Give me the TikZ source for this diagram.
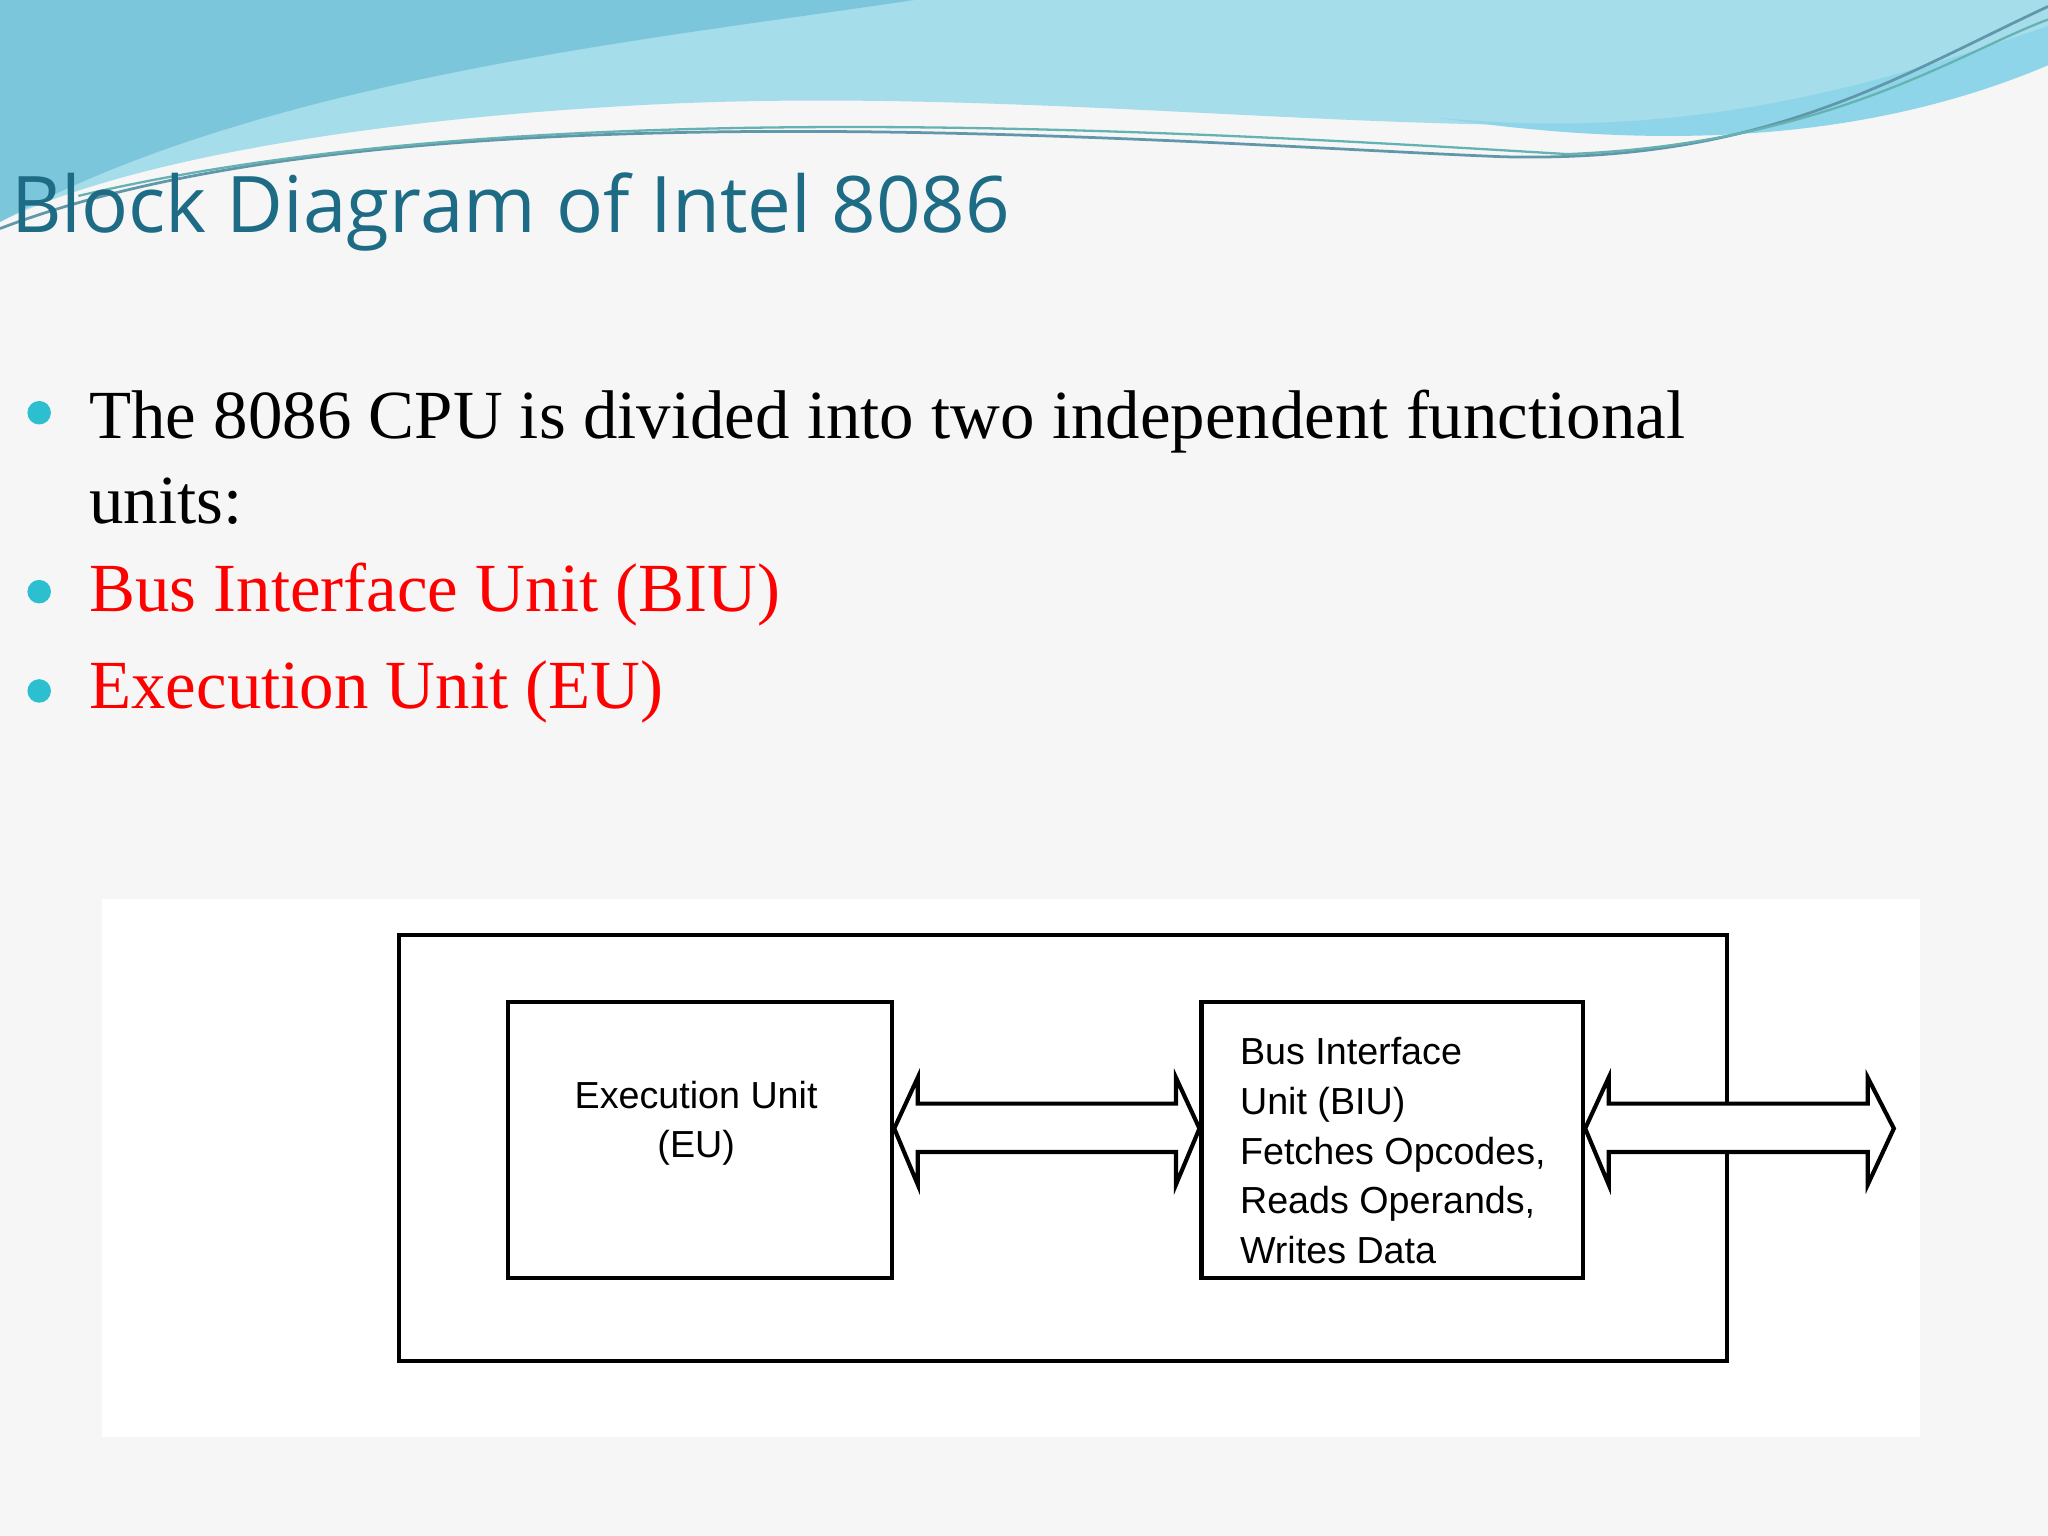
\documentclass[tikz,border=0pt]{standalone}
\usetikzlibrary{calc}
\usepackage{fontspec}
\setmainfont{Liberation Serif}
\newfontfamily\titlefont{Open Sans}
\newfontfamily\diafont{Liberation Sans}
\definecolor{bg}{HTML}{F6F6F6}
\definecolor{titlec}{HTML}{1D6B85}
\definecolor{wave1}{HTML}{7CC6DC}
\definecolor{wave2}{HTML}{A6DDEA}
\definecolor{wave3}{HTML}{5FC3E0}
\definecolor{bullc}{HTML}{2BBFD0}
\begin{document}
\begin{tikzpicture}[x=0.01cm,y=-0.01cm,
  blk/.style={draw=black,line width=0.9pt,fill=white,inner sep=0pt},
  lbl/.style={font=\diafont\fontsize{8.2}{10.8}\selectfont,align=left},
  bul/.style={font=\fontsize{15}{18.5}\selectfont,anchor=west,align=left},
  dot/.style={circle,fill=bullc,inner sep=0pt,minimum size=0.18cm}]
\useasboundingbox (0,0) rectangle (1568,1176);
\fill[bg] (0,0) rectangle (1568,1176);
% header waves
\fill[wave2] (0,0) -- (1568,0) -- (1568,40) .. controls (1300,150) and (900,60) .. (500,80) .. controls (300,90) and (100,120) .. (0,170) -- cycle;
\fill[wave1] (0,0) -- (700,0) .. controls (500,30) and (200,60) .. (0,170) -- cycle;
\fill[wave3!70] (1100,90) .. controls (1300,110) and (1450,60) .. (1568,20) -- (1568,50) .. controls (1450,100) and (1300,120) .. (1100,90) -- cycle;
\draw[titlec!70,line width=0.6pt] (0,175) .. controls (300,60) and (900,110) .. (1150,120) .. controls (1350,125) and (1450,60) .. (1568,5);
\draw[teal!60,line width=0.5pt] (60,150) .. controls (400,70) and (900,100) .. (1200,118) .. controls (1400,110) and (1500,40) .. (1568,15);
% title
\node[anchor=west,text=titlec,font=\titlefont\fontsize{17}{20}\selectfont] (title) at (-4,162) {Block Diagram of Intel 8086};
% bullets
\node[dot] (d1) at (30,316) {};
\node[bul] (b1) at (56,350) {The 8086 CPU is divided into two independent functional\\units:};
\node[dot] (d2) at (30,453) {};
\node[bul,text=red] (b2) at (56,455) {Bus Interface Unit (BIU)};
\node[dot] (d3) at (30,529) {};
\node[bul,text=red] (b3) at (56,530) {Execution Unit (EU)};
% diagram area
\fill[white] (78,688) rectangle (1470,1100);
\node[blk,minimum width=10.16cm,minimum height=3.26cm] (cpu) at (814,879) {};
\node[blk,minimum width=2.94cm,minimum height=2.11cm] (eu) at (536,873) {};
\node[lbl,align=center] (eut) at (533,860) {Execution Unit\\(EU)};
\node[blk,minimum width=2.92cm,minimum height=2.11cm] (biu) at (1066,873) {};
\node[lbl,anchor=north west] (biut) at (937,782) {Bus Interface\\Unit (BIU)\\Fetches Opcodes,\\Reads Operands,\\Writes Data};
\coordinate (ext) at (1450,864);
\coordinate (a1) at ($(eu.east)+(0,-9)$);
\coordinate (a2) at ($(biu.west)+(0,-9)$);
\coordinate (c1) at ($(biu.east)+(0,-9)$);
% block arrows
\draw[line width=0.9pt,fill=white] (a1) -- ++(18,-39) -- ++(0,20) -- ($(a2)+(-18,-19)$) -- ++(0,-20) -- (a2) -- ++(-18,43) -- ++(0,-25) -- ($(a1)+(18,18)$) -- ++(0,25) -- cycle;
\draw[line width=0.9pt,fill=white] (c1) -- ++(18,-39) -- ++(0,20) -- ($(ext)+(-20,-19)$) -- ++(0,-20) -- (ext) -- ++(-20,43) -- ++(0,-25) -- ($(c1)+(18,18)$) -- ++(0,25) -- cycle;
\end{tikzpicture}
\end{document}
